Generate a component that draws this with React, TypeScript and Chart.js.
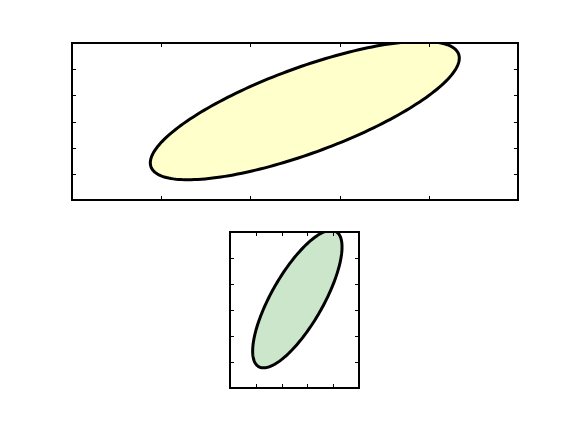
import React, { useEffect, useRef } from 'react';
import Chart from 'chart.js/auto';

// axis limits and tick values (data units, shared by both panels)
const xLimits = [0, 5];
const yLimits = [0, 6];
const xTicks = [1, 2, 3, 4];
const yTicks = [1, 2, 3, 4, 5];

// one ellipse, drawn in both panels
const ellipseCenter = [2.61, 3.42];
const ellipseSize = [6, 2]; // full width, full height
const ellipseAngle = 60; // degrees

const PAD = 10;

const ellipsePlugin = {
  id: 'ellipsePanel',
  afterDraw(chart: any, _args: any, opts: any) {
    const { ctx, chartArea } = chart;
    const sx = chart.scales.x;
    const sy = chart.scales.y;
    const { left, top, right, bottom } = chartArea;

    // ellipse, clipped to the axes box
    const a = ellipseSize[0] / 2;
    const b = ellipseSize[1] / 2;
    const th = (ellipseAngle * Math.PI) / 180;
    ctx.save();
    ctx.beginPath();
    ctx.rect(left, top, right - left, bottom - top);
    ctx.clip();
    ctx.beginPath();
    const n = 200;
    for (let i = 0; i <= n; i++) {
      const t = (i / n) * Math.PI * 2;
      const dx = a * Math.cos(t) * Math.cos(th) - b * Math.sin(t) * Math.sin(th);
      const dy = a * Math.cos(t) * Math.sin(th) + b * Math.sin(t) * Math.cos(th);
      const px = sx.getPixelForValue(ellipseCenter[0] + dx);
      const py = sy.getPixelForValue(ellipseCenter[1] + dy);
      if (i === 0) ctx.moveTo(px, py);
      else ctx.lineTo(px, py);
    }
    ctx.closePath();
    ctx.fillStyle = opts.fill;
    ctx.fill();
    ctx.lineWidth = 3;
    ctx.strokeStyle = '#000';
    ctx.lineJoin = 'round';
    ctx.stroke();
    ctx.restore();

    // inward ticks on all four sides
    ctx.save();
    ctx.strokeStyle = '#000';
    ctx.lineWidth = 1;
    ctx.beginPath();
    xTicks.forEach((v) => {
      const px = Math.round(sx.getPixelForValue(v)) + 0.5;
      ctx.moveTo(px, bottom);
      ctx.lineTo(px, bottom - 4);
      ctx.moveTo(px, top);
      ctx.lineTo(px, top + 4);
    });
    yTicks.forEach((v) => {
      const py = Math.round(sy.getPixelForValue(v)) + 0.5;
      ctx.moveTo(left, py);
      ctx.lineTo(left + 4, py);
      ctx.moveTo(right, py);
      ctx.lineTo(right - 4, py);
    });
    ctx.stroke();

    // frame
    ctx.lineWidth = 2;
    ctx.strokeRect(left, top, right - left, bottom - top);
    ctx.restore();
  },
};

interface PanelProps {
  left: number;
  top: number;
  width: number;
  height: number;
  fill: string;
}

const EllipsePanel: React.FC<PanelProps> = ({ left, top, width, height, fill }) => {
  const chartRef = useRef<HTMLCanvasElement>(null);

  useEffect(() => {
    if (!chartRef.current) return;
    const chart = new Chart(chartRef.current, {
      type: 'scatter',
      data: { datasets: [{ data: [], pointRadius: 0 }] },
      options: {
        animation: false,
        responsive: true,
        maintainAspectRatio: false,
        layout: { padding: PAD },
        scales: {
          x: { type: 'linear', min: xLimits[0], max: xLimits[1], display: false },
          y: { type: 'linear', min: yLimits[0], max: yLimits[1], display: false },
        },
        plugins: {
          legend: { display: false },
          tooltip: { enabled: false },
          ellipsePanel: { fill },
        } as any,
      },
      plugins: [ellipsePlugin],
    });
    return () => chart.destroy();
  }, [fill]);

  return (
    <div
      style={{
        position: 'absolute',
        left: left - PAD,
        top: top - PAD,
        width: width + 2 * PAD,
        height: height + 2 * PAD,
      }}
    >
      <canvas ref={chartRef}></canvas>
    </div>
  );
};

export default function App() {
  return (
    <div style={{ position: 'absolute', left: 0, top: 0, width: 576, height: 432, background: '#fff' }}>
      <EllipsePanel left={72} top={43} width={446} height={157} fill="rgb(255, 255, 204)" />
      <EllipsePanel left={230} top={232} width={129} height={156} fill="rgb(204, 230, 204)" />
    </div>
  );
}
